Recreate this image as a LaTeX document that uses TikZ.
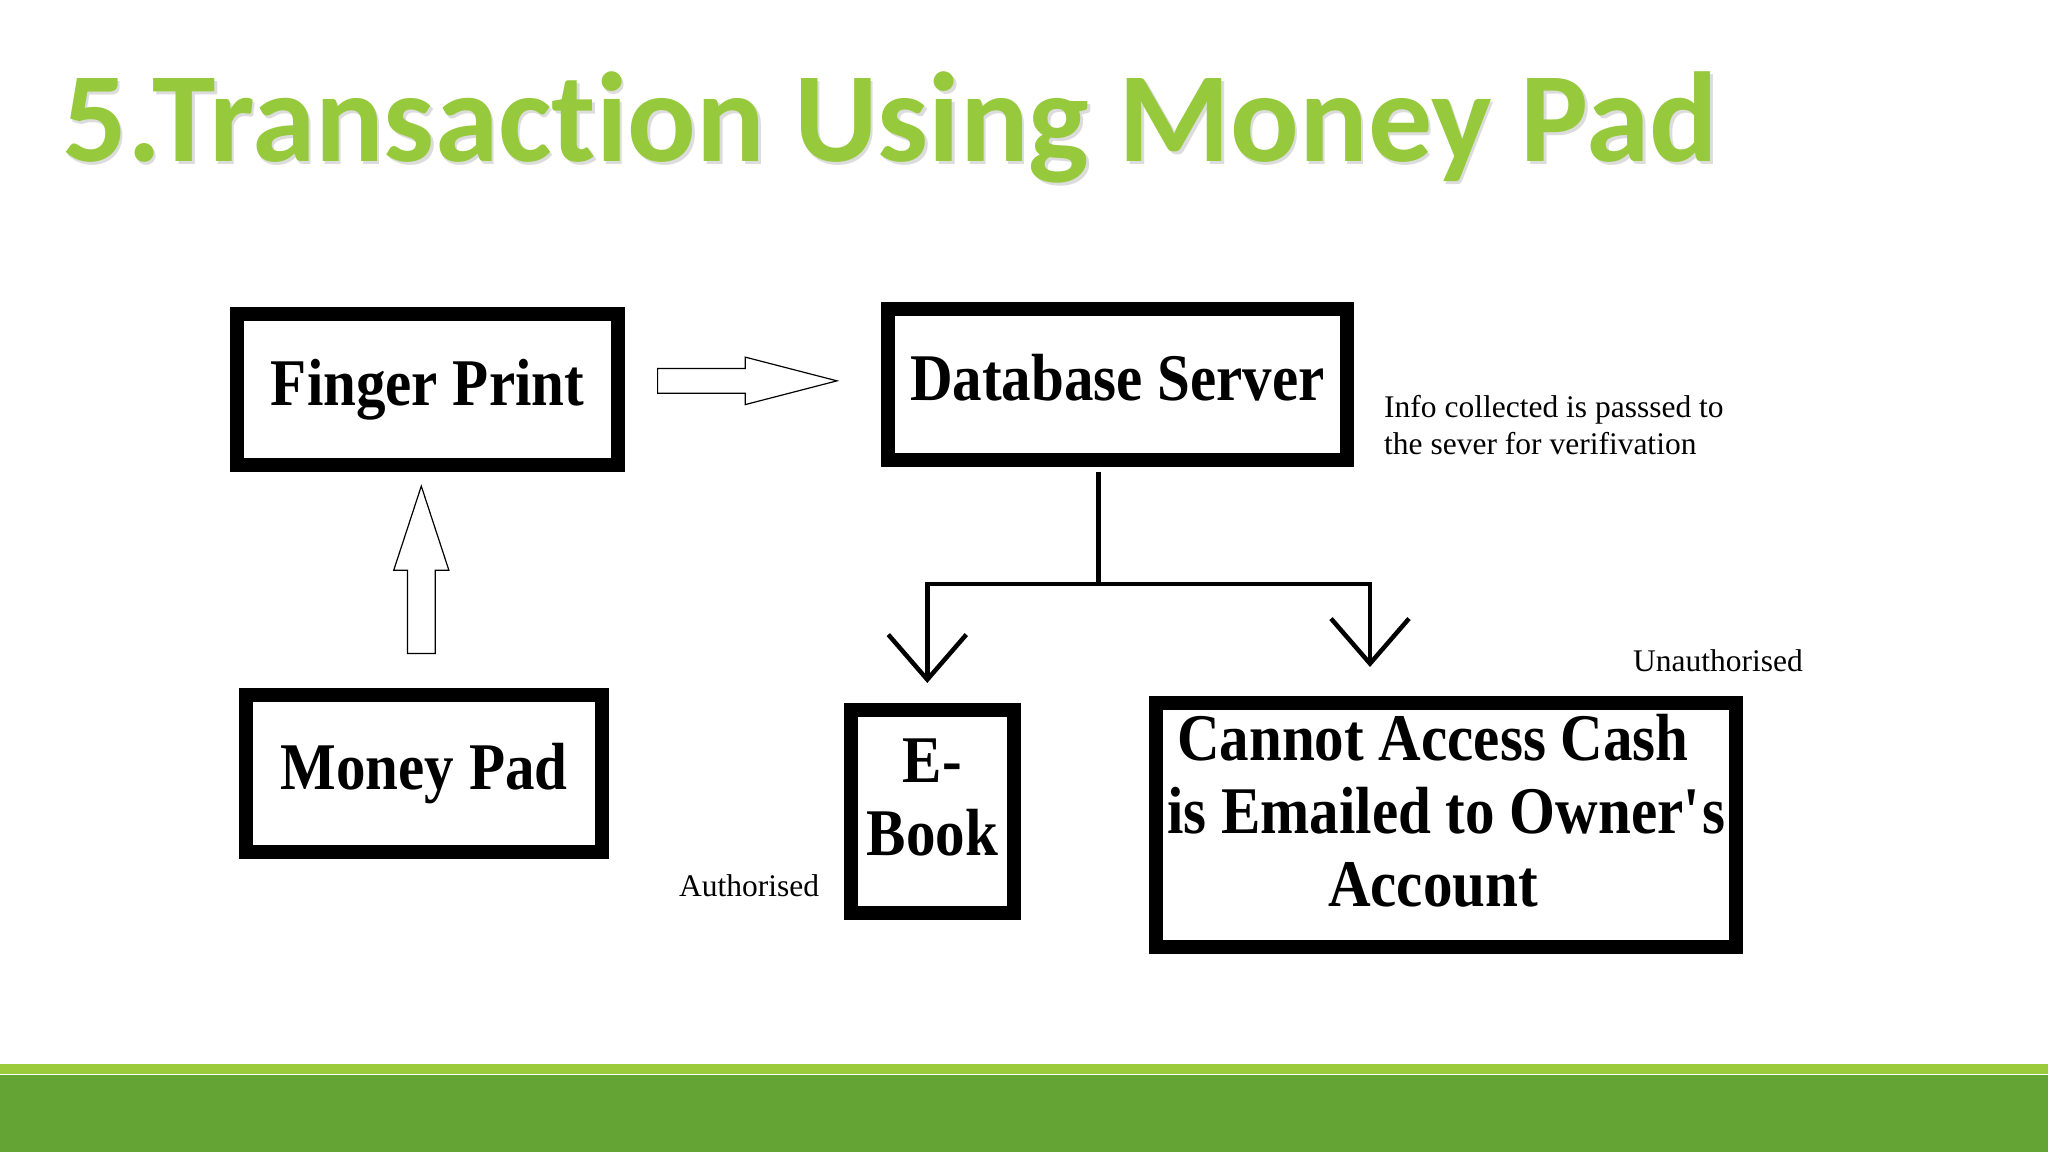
\documentclass[tikz,border=0pt]{standalone}
\usepackage{fontspec}
\usepackage{xcolor}
\usepackage{tikz}
\usetikzlibrary{arrows.meta,positioning,shapes.arrows}
\setmainfont{Liberation Serif}
\newfontfamily\titlefont[Ligatures=NoCommon]{Carlito}
\newfontfamily\boxfont[FakeStretch=0.885]{Liberation Serif}
\definecolor{titlegreen}{RGB}{150,201,60}
\definecolor{barlight}{RGB}{155,203,59}
\definecolor{bardark}{RGB}{99,164,53}

\begin{document}
\begin{tikzpicture}[x=1pt, y=1pt,
    block/.style={rectangle, draw=black, line width=14pt, fill=white,
        inner sep=0pt, align=center,
        font=\boxfont\bfseries\fontsize{66.7}{73}\selectfont},
    oneline/.style={text height=46pt, text depth=14pt},
    fatarrow/.style={single arrow, draw=black, line width=1.2pt, fill=white,
        inner sep=0pt, minimum width=0pt, single arrow head indent=0pt},
    branch/.style={line width=4.5pt, draw=black},
    flow/.style={branch, -{Straight Barb[length=45pt, width=78pt]}},
    heading/.style={anchor=base west, inner sep=0pt,
        font=\titlefont\bfseries\fontsize{128}{132}\selectfont},
    note/.style={inner sep=0pt, align=left,
        font=\fontsize{31.5}{37.3}\selectfont}]
\useasboundingbox (0,0) rectangle (2048,-1152);

% title and footer
\node[heading, text=black!30, opacity=0.45] (titleshadow) at (64.5,-164.5) {5.Transaction Using Money Pad};
\node[heading, text=titlegreen] (title) at (62,-161.7) {5.Transaction Using Money Pad};
\fill[barlight] (0,-1063.5) rectangle (2048,-1073.5);
\fill[bardark] (0,-1075) rectangle (2048,-1152);

% boxes
\node[block, oneline, minimum width=381pt, minimum height=151pt] (fp) at (427.5,-389.5) {Finger Print};
\node[block, oneline, minimum width=459pt, minimum height=151pt, right=256pt of fp, yshift=5pt] (db) {Database Server};
\node[block, oneline, minimum width=356pt, minimum height=157pt, below=216pt of fp, xshift=-3.5pt] (mp) {Money Pad};
\node[block, minimum width=163pt, minimum height=203pt] (eb) at (932.5,-811.5) {E-\\Book\rule[-28pt]{0pt}{0pt}};
\node[block, minimum width=580pt, minimum height=244pt] (cb) at (1446,-825)
    {Cannot Access Cash\hspace*{26pt}\\is Emailed to Owner\textquotesingle s\\Account\hspace*{26pt}\rule[-30pt]{0pt}{0pt}};

% block arrows
\node[fatarrow, minimum height=179.4pt, inner ysep=11.85pt, single arrow head extend=11.3pt,
    single arrow tip angle=29, right=32pt of fp, yshift=8.65pt] (fp2db) {};
\node[fatarrow, rotate=90, anchor=tail, minimum height=167.3pt, inner ysep=13.3pt,
    single arrow head extend=13.7pt, single arrow tip angle=36.3] (mp2fp) at (421.3,-654) {};

% branches
\draw[branch] ([xshift=-19.2pt, yshift=-4.7pt]db.south) -- ++(0,-112.3) coordinate (split);
\draw[flow, shorten >=20pt] (split) -| ([xshift=-5.2pt]eb.north);
\draw[flow, shorten >=29pt] (split) -| ([xshift=-76pt]cb.north);

% labels
\node[note, anchor=north west] (info) at (1384,-394.8) {Info collected is passsed to\\the sever for verifivation};
\node[note, anchor=base west] (unauth) at (1633,-671) {Unauthorised};
\node[note, anchor=base west] (auth) at (679,-896.7) {Authorised};
\end{tikzpicture}
\end{document}
